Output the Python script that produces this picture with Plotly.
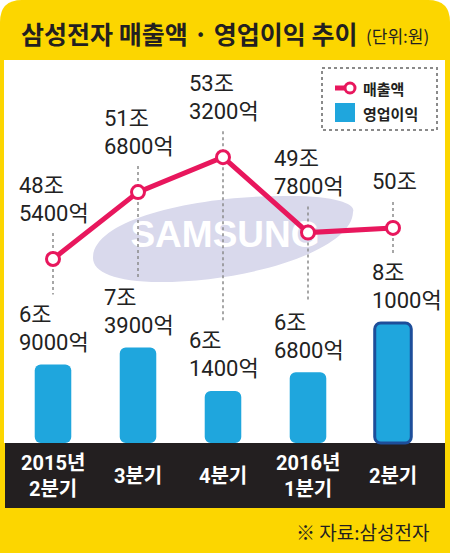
import plotly.graph_objects as go

# data (unit: 조원)
quarters = [["2015년", "2분기"], ["3분기"], ["4분기"], ["2016년", "1분기"], ["2분기"]]
revenue = [48.54, 51.68, 53.32, 49.78, 50.0]
revenue_text = [["48조", "5400억"], ["51조", "6800억"], ["53조", "3200억"], ["49조", "7800억"], ["50조"]]
profit = [6.9, 7.39, 6.14, 6.68, 8.1]
profit_text = [["6조", "9000억"], ["7조", "3900억"], ["6조", "1400억"], ["6조", "6800억"], ["8조", "1000억"]]

W, H = 450, 553
FONT = "Noto Sans CJK KR"
NUM_FONT = "Roboto, Noto Sans CJK KR"
YELLOW = "#FCD600"
PINK = "#E8175D"
BLUE = "#1FA6DD"
DARK = "#231F20"
LABEL_SIZE = 22
PITCH = 28

# scale setup: category spacing and value->pixel factors
X0, DX = 53, 85
REV_REF, REV_PX, REV_K = 48.54, 259, 21.3
PRO_BASE, PRO_PX, PRO_K = 4.64, 443, 34.7

def rev_px(v):
    return REV_PX - (v - REV_REF) * REV_K

def pro_px(v):
    return PRO_PX - (v - PRO_BASE) * PRO_K

def text_w(s, size):
    # rough width: digits narrow, hangul full width
    return sum(0.56 if c.isdigit() else 1.0 for c in s) * size

n = len(quarters)
idx = list(range(n))

fig = go.Figure()

# SAMSUNG watermark (pixel axis, drawn first so the line sits on top)
fig.add_trace(go.Scatter(x=[225], y=[238], mode="text", text=["<b>SAMSUNG</b>"],
                         textfont=dict(family="Liberation Sans", size=37, color="white"),
                         hoverinfo="skip", xaxis="x", yaxis="y"))

# dotted leader lines between labels
lx, ly = [], []
for i in idx:
    px = X0 + DX * i
    lx += [px, px, None]
    ly += [rev_px(revenue[i]) - 26, pro_px(profit[i]) - 70, None]
fig.add_trace(go.Scatter(x=lx, y=ly, mode="lines",
                         line=dict(color="#8a8a8a", width=1.5, dash="dot"),
                         hoverinfo="skip", xaxis="x", yaxis="y"))

# revenue line
fig.add_trace(go.Scatter(x=idx, y=revenue, mode="lines+markers", name="매출액",
                         line=dict(color=PINK, width=5),
                         marker=dict(size=13, color="white", line=dict(color=PINK, width=3)),
                         xaxis="x2", yaxis="y2"))

# operating profit bars
fig.add_trace(go.Bar(x=idx, y=[p - PRO_BASE for p in profit], base=PRO_BASE, name="영업이익",
                     width=0.43,
                     marker=dict(color=BLUE, cornerradius=6,
                                 line=dict(color=["rgba(0,0,0,0)"] * (n - 1) + ["#1D4E9A"],
                                           width=[0] * (n - 1) + [3])),
                     xaxis="x2", yaxis="y3"))

shapes = [
    # yellow frame, rounded top corners
    dict(type="path", xref="x", yref="y", layer="below",
         path="M0,553 L0,22 Q0,0 22,0 L428,0 Q450,0 450,22 L450,553 Z",
         fillcolor=YELLOW, line=dict(width=0)),
    dict(type="rect", xref="x", yref="y", layer="below", x0=4, x1=445, y0=60, y1=443,
         fillcolor="white", line=dict(width=0)),
    dict(type="rect", xref="x", yref="y", layer="below", x0=5, x1=445, y0=443, y1=508,
         fillcolor=DARK, line=dict(width=0)),
    # tilted ellipse of the logo
    dict(type="path", xref="x", yref="y", layer="below",
         path="M93,258 C93,218 200,195 290,196 C340,196 356,205 353,212 "
              "C352,250 250,282 160,282 C115,282 93,272 93,258 Z",
         fillcolor="#D9D9EC", line=dict(width=0)),
    # legend
    dict(type="rect", xref="x", yref="y", x0=322, x1=437, y0=68, y1=130,
         line=dict(color="#8a8a8a", width=2, dash="dot")),
    dict(type="line", xref="x", yref="y", x0=335, x1=347, y0=88, y1=88,
         line=dict(color=PINK, width=5)),
    dict(type="circle", xref="x", yref="y", x0=345, x1=355, y0=83, y1=93,
         fillcolor="white", line=dict(color=PINK, width=3)),
    dict(type="rect", xref="x", yref="y", x0=335, x1=355, y0=103, y1=122,
         fillcolor=BLUE, line=dict(width=0)),
]

annotations = [
    dict(x=19, y=33, xref="x", yref="y", xanchor="left", yanchor="middle", showarrow=False,
         text="<b>삼성전자 매출액 · 영업이익 추이</b>",
         font=dict(family=FONT, size=25, color=DARK, weight=900)),
    dict(x=431, y=35, xref="x", yref="y", xanchor="right", yanchor="middle", showarrow=False,
         text="(단위:원)", font=dict(family=FONT, size=17, color=DARK)),
    dict(x=361, y=88, xref="x", yref="y", xanchor="left", yanchor="middle", showarrow=False,
         text="<b>매출액</b>", font=dict(family=FONT, size=15, color=DARK)),
    dict(x=361, y=113, xref="x", yref="y", xanchor="left", yanchor="middle", showarrow=False,
         text="<b>영업이익</b>", font=dict(family=FONT, size=15, color=DARK)),
    dict(x=431, y=531, xref="x", yref="y", xanchor="right", yanchor="middle", showarrow=False,
         text="※ 자료:삼성전자", font=dict(family=FONT, size=19, color=DARK)),
]
label_font = dict(family=NUM_FONT, size=LABEL_SIZE, color="#222")
for i in idx:
    # both labels of a column start at the left edge of the centred revenue label
    shift = -max(text_w(s, LABEL_SIZE) for s in revenue_text[i]) / 2
    for k, s in enumerate(reversed(revenue_text[i])):
        annotations.append(dict(x=i, y=revenue[i], xref="x2", yref="y2", xanchor="left",
                                yanchor="middle", xshift=shift, yshift=46 + k * PITCH,
                                showarrow=False, text=s, font=label_font))
    for k, s in enumerate(reversed(profit_text[i])):
        annotations.append(dict(x=i, y=profit[i], xref="x2", yref="y3", xanchor="left",
                                yanchor="middle", xshift=shift, yshift=22 + k * PITCH,
                                showarrow=False, text=s, font=label_font))
    lines = quarters[i]
    ys = [476] if len(lines) == 1 else [463, 489]
    for txt, yy in zip(lines, ys):
        annotations.append(dict(x=i, y=yy, xref="x2", yref="y", yanchor="middle",
                                showarrow=False, text="<b>" + txt + "</b>",
                                font=dict(family=NUM_FONT, size=20, color="white")))

hidden = dict(visible=False, fixedrange=True, showgrid=False, zeroline=False)
fig.update_layout(
    width=W, height=H, margin=dict(l=0, r=0, t=0, b=0),
    paper_bgcolor="white", plot_bgcolor="rgba(0,0,0,0)",
    showlegend=False,
    xaxis=dict(range=[0, W], **hidden),
    yaxis=dict(range=[H, 0], **hidden),
    xaxis2=dict(range=[-X0 / DX, (W - X0) / DX], overlaying="x", **hidden),
    yaxis2=dict(range=[REV_REF - (H - REV_PX) / REV_K, REV_REF + REV_PX / REV_K],
                overlaying="y", **hidden),
    yaxis3=dict(range=[PRO_BASE - (H - PRO_PX) / PRO_K, PRO_BASE + PRO_PX / PRO_K],
                overlaying="y", **hidden),
    shapes=shapes, annotations=annotations,
)

fig.write_html("out.html", config={"displayModeBar": False},
               post_script="document.body.style.margin='0';")
